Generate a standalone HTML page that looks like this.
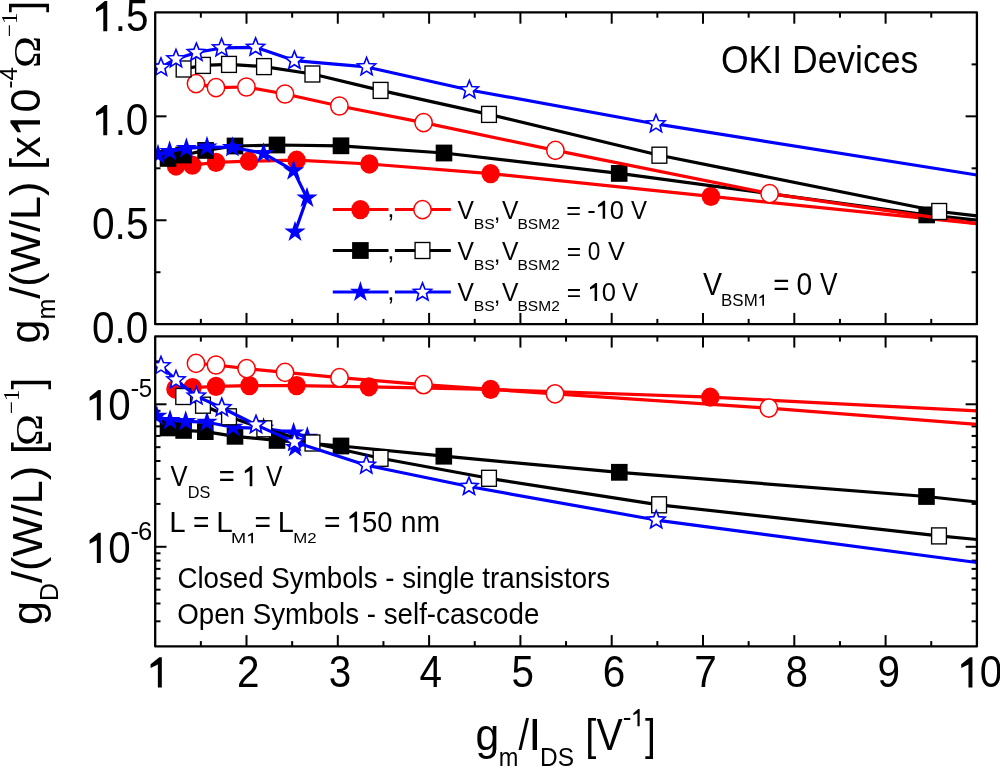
<!DOCTYPE html><html><head><meta charset="utf-8"><style>html,body{margin:0;padding:0;background:#fff;overflow:hidden}svg{display:block;will-change:transform}</style></head><body><svg width="1000" height="767" viewBox="0 0 1000 767" font-family="Liberation Sans, sans-serif" style="font-kerning:none">
<rect width="1000" height="767" fill="#fff"/>
<defs>
<clipPath id="ct"><rect x="155.2" y="12.4" width="821.7" height="311.8"/></clipPath>
<clipPath id="cb"><rect x="155.2" y="336.3" width="821.7" height="310.09999999999997"/></clipPath>
</defs>
<line x1="200.85" y1="12.40" x2="200.85" y2="17.70" stroke="#000000" stroke-width="2.0"/>
<line x1="200.85" y1="324.20" x2="200.85" y2="318.90" stroke="#000000" stroke-width="2.0"/>
<line x1="246.50" y1="12.40" x2="246.50" y2="23.70" stroke="#000000" stroke-width="2.0"/>
<line x1="246.50" y1="324.20" x2="246.50" y2="312.90" stroke="#000000" stroke-width="2.0"/>
<line x1="292.15" y1="12.40" x2="292.15" y2="17.70" stroke="#000000" stroke-width="2.0"/>
<line x1="292.15" y1="324.20" x2="292.15" y2="318.90" stroke="#000000" stroke-width="2.0"/>
<line x1="337.80" y1="12.40" x2="337.80" y2="23.70" stroke="#000000" stroke-width="2.0"/>
<line x1="337.80" y1="324.20" x2="337.80" y2="312.90" stroke="#000000" stroke-width="2.0"/>
<line x1="383.45" y1="12.40" x2="383.45" y2="17.70" stroke="#000000" stroke-width="2.0"/>
<line x1="383.45" y1="324.20" x2="383.45" y2="318.90" stroke="#000000" stroke-width="2.0"/>
<line x1="429.10" y1="12.40" x2="429.10" y2="23.70" stroke="#000000" stroke-width="2.0"/>
<line x1="429.10" y1="324.20" x2="429.10" y2="312.90" stroke="#000000" stroke-width="2.0"/>
<line x1="474.75" y1="12.40" x2="474.75" y2="17.70" stroke="#000000" stroke-width="2.0"/>
<line x1="474.75" y1="324.20" x2="474.75" y2="318.90" stroke="#000000" stroke-width="2.0"/>
<line x1="520.40" y1="12.40" x2="520.40" y2="23.70" stroke="#000000" stroke-width="2.0"/>
<line x1="520.40" y1="324.20" x2="520.40" y2="312.90" stroke="#000000" stroke-width="2.0"/>
<line x1="566.05" y1="12.40" x2="566.05" y2="17.70" stroke="#000000" stroke-width="2.0"/>
<line x1="566.05" y1="324.20" x2="566.05" y2="318.90" stroke="#000000" stroke-width="2.0"/>
<line x1="611.70" y1="12.40" x2="611.70" y2="23.70" stroke="#000000" stroke-width="2.0"/>
<line x1="611.70" y1="324.20" x2="611.70" y2="312.90" stroke="#000000" stroke-width="2.0"/>
<line x1="657.35" y1="12.40" x2="657.35" y2="17.70" stroke="#000000" stroke-width="2.0"/>
<line x1="657.35" y1="324.20" x2="657.35" y2="318.90" stroke="#000000" stroke-width="2.0"/>
<line x1="703.00" y1="12.40" x2="703.00" y2="23.70" stroke="#000000" stroke-width="2.0"/>
<line x1="703.00" y1="324.20" x2="703.00" y2="312.90" stroke="#000000" stroke-width="2.0"/>
<line x1="748.65" y1="12.40" x2="748.65" y2="17.70" stroke="#000000" stroke-width="2.0"/>
<line x1="748.65" y1="324.20" x2="748.65" y2="318.90" stroke="#000000" stroke-width="2.0"/>
<line x1="794.30" y1="12.40" x2="794.30" y2="23.70" stroke="#000000" stroke-width="2.0"/>
<line x1="794.30" y1="324.20" x2="794.30" y2="312.90" stroke="#000000" stroke-width="2.0"/>
<line x1="839.95" y1="12.40" x2="839.95" y2="17.70" stroke="#000000" stroke-width="2.0"/>
<line x1="839.95" y1="324.20" x2="839.95" y2="318.90" stroke="#000000" stroke-width="2.0"/>
<line x1="885.60" y1="12.40" x2="885.60" y2="23.70" stroke="#000000" stroke-width="2.0"/>
<line x1="885.60" y1="324.20" x2="885.60" y2="312.90" stroke="#000000" stroke-width="2.0"/>
<line x1="931.25" y1="12.40" x2="931.25" y2="17.70" stroke="#000000" stroke-width="2.0"/>
<line x1="931.25" y1="324.20" x2="931.25" y2="318.90" stroke="#000000" stroke-width="2.0"/>
<line x1="200.85" y1="336.30" x2="200.85" y2="341.60" stroke="#000000" stroke-width="2.0"/>
<line x1="200.85" y1="646.40" x2="200.85" y2="641.10" stroke="#000000" stroke-width="2.0"/>
<line x1="246.50" y1="336.30" x2="246.50" y2="347.60" stroke="#000000" stroke-width="2.0"/>
<line x1="246.50" y1="646.40" x2="246.50" y2="635.10" stroke="#000000" stroke-width="2.0"/>
<line x1="292.15" y1="336.30" x2="292.15" y2="341.60" stroke="#000000" stroke-width="2.0"/>
<line x1="292.15" y1="646.40" x2="292.15" y2="641.10" stroke="#000000" stroke-width="2.0"/>
<line x1="337.80" y1="336.30" x2="337.80" y2="347.60" stroke="#000000" stroke-width="2.0"/>
<line x1="337.80" y1="646.40" x2="337.80" y2="635.10" stroke="#000000" stroke-width="2.0"/>
<line x1="383.45" y1="336.30" x2="383.45" y2="341.60" stroke="#000000" stroke-width="2.0"/>
<line x1="383.45" y1="646.40" x2="383.45" y2="641.10" stroke="#000000" stroke-width="2.0"/>
<line x1="429.10" y1="336.30" x2="429.10" y2="347.60" stroke="#000000" stroke-width="2.0"/>
<line x1="429.10" y1="646.40" x2="429.10" y2="635.10" stroke="#000000" stroke-width="2.0"/>
<line x1="474.75" y1="336.30" x2="474.75" y2="341.60" stroke="#000000" stroke-width="2.0"/>
<line x1="474.75" y1="646.40" x2="474.75" y2="641.10" stroke="#000000" stroke-width="2.0"/>
<line x1="520.40" y1="336.30" x2="520.40" y2="347.60" stroke="#000000" stroke-width="2.0"/>
<line x1="520.40" y1="646.40" x2="520.40" y2="635.10" stroke="#000000" stroke-width="2.0"/>
<line x1="566.05" y1="336.30" x2="566.05" y2="341.60" stroke="#000000" stroke-width="2.0"/>
<line x1="566.05" y1="646.40" x2="566.05" y2="641.10" stroke="#000000" stroke-width="2.0"/>
<line x1="611.70" y1="336.30" x2="611.70" y2="347.60" stroke="#000000" stroke-width="2.0"/>
<line x1="611.70" y1="646.40" x2="611.70" y2="635.10" stroke="#000000" stroke-width="2.0"/>
<line x1="657.35" y1="336.30" x2="657.35" y2="341.60" stroke="#000000" stroke-width="2.0"/>
<line x1="657.35" y1="646.40" x2="657.35" y2="641.10" stroke="#000000" stroke-width="2.0"/>
<line x1="703.00" y1="336.30" x2="703.00" y2="347.60" stroke="#000000" stroke-width="2.0"/>
<line x1="703.00" y1="646.40" x2="703.00" y2="635.10" stroke="#000000" stroke-width="2.0"/>
<line x1="748.65" y1="336.30" x2="748.65" y2="341.60" stroke="#000000" stroke-width="2.0"/>
<line x1="748.65" y1="646.40" x2="748.65" y2="641.10" stroke="#000000" stroke-width="2.0"/>
<line x1="794.30" y1="336.30" x2="794.30" y2="347.60" stroke="#000000" stroke-width="2.0"/>
<line x1="794.30" y1="646.40" x2="794.30" y2="635.10" stroke="#000000" stroke-width="2.0"/>
<line x1="839.95" y1="336.30" x2="839.95" y2="341.60" stroke="#000000" stroke-width="2.0"/>
<line x1="839.95" y1="646.40" x2="839.95" y2="641.10" stroke="#000000" stroke-width="2.0"/>
<line x1="885.60" y1="336.30" x2="885.60" y2="347.60" stroke="#000000" stroke-width="2.0"/>
<line x1="885.60" y1="646.40" x2="885.60" y2="635.10" stroke="#000000" stroke-width="2.0"/>
<line x1="931.25" y1="336.30" x2="931.25" y2="341.60" stroke="#000000" stroke-width="2.0"/>
<line x1="931.25" y1="646.40" x2="931.25" y2="641.10" stroke="#000000" stroke-width="2.0"/>
<line x1="155.20" y1="272.23" x2="160.50" y2="272.23" stroke="#000000" stroke-width="2.0"/>
<line x1="976.90" y1="272.23" x2="971.60" y2="272.23" stroke="#000000" stroke-width="2.0"/>
<line x1="155.20" y1="220.27" x2="166.50" y2="220.27" stroke="#000000" stroke-width="2.0"/>
<line x1="976.90" y1="220.27" x2="965.60" y2="220.27" stroke="#000000" stroke-width="2.0"/>
<line x1="155.20" y1="168.30" x2="160.50" y2="168.30" stroke="#000000" stroke-width="2.0"/>
<line x1="976.90" y1="168.30" x2="971.60" y2="168.30" stroke="#000000" stroke-width="2.0"/>
<line x1="155.20" y1="116.33" x2="166.50" y2="116.33" stroke="#000000" stroke-width="2.0"/>
<line x1="976.90" y1="116.33" x2="965.60" y2="116.33" stroke="#000000" stroke-width="2.0"/>
<line x1="155.20" y1="64.37" x2="160.50" y2="64.37" stroke="#000000" stroke-width="2.0"/>
<line x1="976.90" y1="64.37" x2="971.60" y2="64.37" stroke="#000000" stroke-width="2.0"/>
<line x1="155.20" y1="621.31" x2="160.50" y2="621.31" stroke="#000000" stroke-width="2.0"/>
<line x1="976.90" y1="621.31" x2="971.60" y2="621.31" stroke="#000000" stroke-width="2.0"/>
<line x1="155.20" y1="603.50" x2="160.50" y2="603.50" stroke="#000000" stroke-width="2.0"/>
<line x1="976.90" y1="603.50" x2="971.60" y2="603.50" stroke="#000000" stroke-width="2.0"/>
<line x1="155.20" y1="589.69" x2="160.50" y2="589.69" stroke="#000000" stroke-width="2.0"/>
<line x1="976.90" y1="589.69" x2="971.60" y2="589.69" stroke="#000000" stroke-width="2.0"/>
<line x1="155.20" y1="578.41" x2="160.50" y2="578.41" stroke="#000000" stroke-width="2.0"/>
<line x1="976.90" y1="578.41" x2="971.60" y2="578.41" stroke="#000000" stroke-width="2.0"/>
<line x1="155.20" y1="568.87" x2="160.50" y2="568.87" stroke="#000000" stroke-width="2.0"/>
<line x1="976.90" y1="568.87" x2="971.60" y2="568.87" stroke="#000000" stroke-width="2.0"/>
<line x1="155.20" y1="560.60" x2="160.50" y2="560.60" stroke="#000000" stroke-width="2.0"/>
<line x1="976.90" y1="560.60" x2="971.60" y2="560.60" stroke="#000000" stroke-width="2.0"/>
<line x1="155.20" y1="553.32" x2="160.50" y2="553.32" stroke="#000000" stroke-width="2.0"/>
<line x1="976.90" y1="553.32" x2="971.60" y2="553.32" stroke="#000000" stroke-width="2.0"/>
<line x1="155.20" y1="546.79" x2="166.50" y2="546.79" stroke="#000000" stroke-width="2.0"/>
<line x1="976.90" y1="546.79" x2="965.60" y2="546.79" stroke="#000000" stroke-width="2.0"/>
<line x1="155.20" y1="503.90" x2="160.50" y2="503.90" stroke="#000000" stroke-width="2.0"/>
<line x1="976.90" y1="503.90" x2="971.60" y2="503.90" stroke="#000000" stroke-width="2.0"/>
<line x1="155.20" y1="478.80" x2="160.50" y2="478.80" stroke="#000000" stroke-width="2.0"/>
<line x1="976.90" y1="478.80" x2="971.60" y2="478.80" stroke="#000000" stroke-width="2.0"/>
<line x1="155.20" y1="461.00" x2="160.50" y2="461.00" stroke="#000000" stroke-width="2.0"/>
<line x1="976.90" y1="461.00" x2="971.60" y2="461.00" stroke="#000000" stroke-width="2.0"/>
<line x1="155.20" y1="447.19" x2="160.50" y2="447.19" stroke="#000000" stroke-width="2.0"/>
<line x1="976.90" y1="447.19" x2="971.60" y2="447.19" stroke="#000000" stroke-width="2.0"/>
<line x1="155.20" y1="435.91" x2="160.50" y2="435.91" stroke="#000000" stroke-width="2.0"/>
<line x1="976.90" y1="435.91" x2="971.60" y2="435.91" stroke="#000000" stroke-width="2.0"/>
<line x1="155.20" y1="426.37" x2="160.50" y2="426.37" stroke="#000000" stroke-width="2.0"/>
<line x1="976.90" y1="426.37" x2="971.60" y2="426.37" stroke="#000000" stroke-width="2.0"/>
<line x1="155.20" y1="418.10" x2="160.50" y2="418.10" stroke="#000000" stroke-width="2.0"/>
<line x1="976.90" y1="418.10" x2="971.60" y2="418.10" stroke="#000000" stroke-width="2.0"/>
<line x1="155.20" y1="410.81" x2="160.50" y2="410.81" stroke="#000000" stroke-width="2.0"/>
<line x1="976.90" y1="410.81" x2="971.60" y2="410.81" stroke="#000000" stroke-width="2.0"/>
<line x1="155.20" y1="404.29" x2="166.50" y2="404.29" stroke="#000000" stroke-width="2.0"/>
<line x1="976.90" y1="404.29" x2="965.60" y2="404.29" stroke="#000000" stroke-width="2.0"/>
<line x1="155.20" y1="361.39" x2="160.50" y2="361.39" stroke="#000000" stroke-width="2.0"/>
<line x1="976.90" y1="361.39" x2="971.60" y2="361.39" stroke="#000000" stroke-width="2.0"/>
<g clip-path="url(#ct)">
<polyline points="176.00,166.00 192.40,165.20 216.00,162.40 249.00,161.20 296.60,160.20 369.40,164.00 490.60,173.60 710.90,196.40 976.90,223.60" fill="none" stroke="#ff0000" stroke-width="3.2" stroke-linejoin="round"/>
<ellipse cx="176.00" cy="166.00" rx="9.2" ry="9.65" fill="#ff0000"/>
<ellipse cx="192.40" cy="165.20" rx="9.2" ry="9.65" fill="#ff0000"/>
<ellipse cx="216.00" cy="162.40" rx="9.2" ry="9.65" fill="#ff0000"/>
<ellipse cx="249.00" cy="161.20" rx="9.2" ry="9.65" fill="#ff0000"/>
<ellipse cx="296.60" cy="160.20" rx="9.2" ry="9.65" fill="#ff0000"/>
<ellipse cx="369.40" cy="164.00" rx="9.2" ry="9.65" fill="#ff0000"/>
<ellipse cx="490.60" cy="173.60" rx="9.2" ry="9.65" fill="#ff0000"/>
<ellipse cx="710.90" cy="196.40" rx="9.2" ry="9.65" fill="#ff0000"/>
</g>
<g clip-path="url(#ct)">
<polyline points="168.00,158.40 183.60,155.00 205.60,150.40 235.00,146.00 277.00,145.00 341.00,145.80 444.00,153.00 619.20,173.40 926.70,214.90 976.90,220.00" fill="none" stroke="#000000" stroke-width="3.2" stroke-linejoin="round"/>
<rect x="159.70" y="150.00" width="16.6" height="16.8" fill="#000000"/>
<rect x="175.30" y="146.60" width="16.6" height="16.8" fill="#000000"/>
<rect x="197.30" y="142.00" width="16.6" height="16.8" fill="#000000"/>
<rect x="226.70" y="137.60" width="16.6" height="16.8" fill="#000000"/>
<rect x="268.70" y="136.60" width="16.6" height="16.8" fill="#000000"/>
<rect x="332.70" y="137.40" width="16.6" height="16.8" fill="#000000"/>
<rect x="435.70" y="144.60" width="16.6" height="16.8" fill="#000000"/>
<rect x="610.90" y="165.00" width="16.6" height="16.8" fill="#000000"/>
<rect x="918.40" y="206.50" width="16.6" height="16.8" fill="#000000"/>
</g>
<g clip-path="url(#ct)">
<polyline points="158.00,155.00 169.60,151.40 186.40,148.40 207.00,147.00 232.40,147.40 263.60,153.40 293.60,170.60 307.00,198.00 295.00,232.00" fill="none" stroke="#0000ff" stroke-width="3.2" stroke-linejoin="round"/>
<polygon points="158.00,143.80 160.51,151.54 168.65,151.54 162.07,156.32 164.58,164.06 158.00,159.28 151.42,164.06 153.93,156.32 147.35,151.54 155.49,151.54" fill="#0000ff"/>
<polygon points="169.60,140.20 172.11,147.94 180.25,147.94 173.67,152.72 176.18,160.46 169.60,155.68 163.02,160.46 165.53,152.72 158.95,147.94 167.09,147.94" fill="#0000ff"/>
<polygon points="186.40,137.20 188.91,144.94 197.05,144.94 190.47,149.72 192.98,157.46 186.40,152.68 179.82,157.46 182.33,149.72 175.75,144.94 183.89,144.94" fill="#0000ff"/>
<polygon points="207.00,135.80 209.51,143.54 217.65,143.54 211.07,148.32 213.58,156.06 207.00,151.28 200.42,156.06 202.93,148.32 196.35,143.54 204.49,143.54" fill="#0000ff"/>
<polygon points="232.40,136.20 234.91,143.94 243.05,143.94 236.47,148.72 238.98,156.46 232.40,151.68 225.82,156.46 228.33,148.72 221.75,143.94 229.89,143.94" fill="#0000ff"/>
<polygon points="263.60,142.20 266.11,149.94 274.25,149.94 267.67,154.72 270.18,162.46 263.60,157.68 257.02,162.46 259.53,154.72 252.95,149.94 261.09,149.94" fill="#0000ff"/>
<polygon points="293.60,159.40 296.11,167.14 304.25,167.14 297.67,171.92 300.18,179.66 293.60,174.88 287.02,179.66 289.53,171.92 282.95,167.14 291.09,167.14" fill="#0000ff"/>
<polygon points="307.00,186.80 309.51,194.54 317.65,194.54 311.07,199.32 313.58,207.06 307.00,202.28 300.42,207.06 302.93,199.32 296.35,194.54 304.49,194.54" fill="#0000ff"/>
<polygon points="295.00,220.80 297.51,228.54 305.65,228.54 299.07,233.32 301.58,241.06 295.00,236.28 288.42,241.06 290.93,233.32 284.35,228.54 292.49,228.54" fill="#0000ff"/>
</g>
<g clip-path="url(#ct)">
<polyline points="196.00,83.60 216.00,87.60 246.40,87.00 285.00,94.00 339.40,106.00 423.60,122.60 555.40,150.40 769.60,193.60 976.90,223.60" fill="none" stroke="#ff0000" stroke-width="3.2" stroke-linejoin="round"/>
<ellipse cx="196.00" cy="83.60" rx="8.7" ry="9.1" fill="#fff" stroke="#ff0000" stroke-width="1.5"/>
<ellipse cx="216.00" cy="87.60" rx="8.7" ry="9.1" fill="#fff" stroke="#ff0000" stroke-width="1.5"/>
<ellipse cx="246.40" cy="87.00" rx="8.7" ry="9.1" fill="#fff" stroke="#ff0000" stroke-width="1.5"/>
<ellipse cx="285.00" cy="94.00" rx="8.7" ry="9.1" fill="#fff" stroke="#ff0000" stroke-width="1.5"/>
<ellipse cx="339.40" cy="106.00" rx="8.7" ry="9.1" fill="#fff" stroke="#ff0000" stroke-width="1.5"/>
<ellipse cx="423.60" cy="122.60" rx="8.7" ry="9.1" fill="#fff" stroke="#ff0000" stroke-width="1.5"/>
<ellipse cx="555.40" cy="150.40" rx="8.7" ry="9.1" fill="#fff" stroke="#ff0000" stroke-width="1.5"/>
<ellipse cx="769.60" cy="193.60" rx="8.7" ry="9.1" fill="#fff" stroke="#ff0000" stroke-width="1.5"/>
</g>
<g clip-path="url(#ct)">
<polyline points="183.60,69.00 203.00,65.40 229.00,64.40 264.00,66.60 312.40,74.00 380.60,90.40 489.00,114.40 659.40,155.20 939.20,211.50 976.90,215.80" fill="none" stroke="#000000" stroke-width="3.2" stroke-linejoin="round"/>
<rect x="176.20" y="61.00" width="14.8" height="16.0" fill="#fff" stroke="#000000" stroke-width="1.35"/>
<rect x="195.60" y="57.40" width="14.8" height="16.0" fill="#fff" stroke="#000000" stroke-width="1.35"/>
<rect x="221.60" y="56.40" width="14.8" height="16.0" fill="#fff" stroke="#000000" stroke-width="1.35"/>
<rect x="256.60" y="58.60" width="14.8" height="16.0" fill="#fff" stroke="#000000" stroke-width="1.35"/>
<rect x="305.00" y="66.00" width="14.8" height="16.0" fill="#fff" stroke="#000000" stroke-width="1.35"/>
<rect x="373.20" y="82.40" width="14.8" height="16.0" fill="#fff" stroke="#000000" stroke-width="1.35"/>
<rect x="481.60" y="106.40" width="14.8" height="16.0" fill="#fff" stroke="#000000" stroke-width="1.35"/>
<rect x="652.00" y="147.20" width="14.8" height="16.0" fill="#fff" stroke="#000000" stroke-width="1.35"/>
<rect x="931.80" y="203.50" width="14.8" height="16.0" fill="#fff" stroke="#000000" stroke-width="1.35"/>
</g>
<g clip-path="url(#ct)">
<polyline points="161.00,67.45 176.00,58.95 196.40,52.55 221.60,47.95 255.60,47.35 294.40,60.55 366.60,66.95 469.40,89.95 656.00,123.95 976.90,175.00" fill="none" stroke="#0000ff" stroke-width="3.2" stroke-linejoin="round"/>
<polygon points="161.00,57.95 163.46,64.07 170.04,64.51 164.98,68.74 166.58,75.14 161.00,71.63 155.42,75.14 157.02,68.74 151.96,64.51 158.54,64.07" fill="#fff" stroke="#0000ff" stroke-width="1.6" stroke-linejoin="miter"/>
<polygon points="176.00,49.45 178.46,55.57 185.04,56.01 179.98,60.24 181.58,66.64 176.00,63.13 170.42,66.64 172.02,60.24 166.96,56.01 173.54,55.57" fill="#fff" stroke="#0000ff" stroke-width="1.6" stroke-linejoin="miter"/>
<polygon points="196.40,43.05 198.86,49.17 205.44,49.61 200.38,53.84 201.98,60.24 196.40,56.73 190.82,60.24 192.42,53.84 187.36,49.61 193.94,49.17" fill="#fff" stroke="#0000ff" stroke-width="1.6" stroke-linejoin="miter"/>
<polygon points="221.60,38.45 224.06,44.57 230.64,45.01 225.58,49.24 227.18,55.64 221.60,52.13 216.02,55.64 217.62,49.24 212.56,45.01 219.14,44.57" fill="#fff" stroke="#0000ff" stroke-width="1.6" stroke-linejoin="miter"/>
<polygon points="255.60,37.85 258.06,43.97 264.64,44.41 259.58,48.64 261.18,55.04 255.60,51.53 250.02,55.04 251.62,48.64 246.56,44.41 253.14,43.97" fill="#fff" stroke="#0000ff" stroke-width="1.6" stroke-linejoin="miter"/>
<polygon points="294.40,51.05 296.86,57.17 303.44,57.61 298.38,61.84 299.98,68.24 294.40,64.73 288.82,68.24 290.42,61.84 285.36,57.61 291.94,57.17" fill="#fff" stroke="#0000ff" stroke-width="1.6" stroke-linejoin="miter"/>
<polygon points="366.60,57.45 369.06,63.57 375.64,64.01 370.58,68.24 372.18,74.64 366.60,71.13 361.02,74.64 362.62,68.24 357.56,64.01 364.14,63.57" fill="#fff" stroke="#0000ff" stroke-width="1.6" stroke-linejoin="miter"/>
<polygon points="469.40,80.45 471.86,86.57 478.44,87.01 473.38,91.24 474.98,97.64 469.40,94.13 463.82,97.64 465.42,91.24 460.36,87.01 466.94,86.57" fill="#fff" stroke="#0000ff" stroke-width="1.6" stroke-linejoin="miter"/>
<polygon points="656.00,114.45 658.46,120.57 665.04,121.01 659.98,125.24 661.58,131.64 656.00,128.13 650.42,131.64 652.02,125.24 646.96,121.01 653.54,120.57" fill="#fff" stroke="#0000ff" stroke-width="1.6" stroke-linejoin="miter"/>
</g>
<g clip-path="url(#cb)">
<polyline points="175.40,389.00 192.60,387.60 216.00,386.40 249.40,385.60 296.60,385.60 368.90,386.80 490.60,389.40 710.30,397.20 976.90,410.80" fill="none" stroke="#ff0000" stroke-width="3.2" stroke-linejoin="round"/>
<ellipse cx="175.40" cy="389.00" rx="9.2" ry="9.65" fill="#ff0000"/>
<ellipse cx="192.60" cy="387.60" rx="9.2" ry="9.65" fill="#ff0000"/>
<ellipse cx="216.00" cy="386.40" rx="9.2" ry="9.65" fill="#ff0000"/>
<ellipse cx="249.40" cy="385.60" rx="9.2" ry="9.65" fill="#ff0000"/>
<ellipse cx="296.60" cy="385.60" rx="9.2" ry="9.65" fill="#ff0000"/>
<ellipse cx="368.90" cy="386.80" rx="9.2" ry="9.65" fill="#ff0000"/>
<ellipse cx="490.60" cy="389.40" rx="9.2" ry="9.65" fill="#ff0000"/>
<ellipse cx="710.30" cy="397.20" rx="9.2" ry="9.65" fill="#ff0000"/>
</g>
<g clip-path="url(#cb)">
<polyline points="168.00,427.90 183.60,430.40 205.30,431.60 235.00,436.30 277.00,440.40 341.00,446.00 443.80,456.20 619.30,472.30 926.50,496.50 976.90,502.00" fill="none" stroke="#000000" stroke-width="3.2" stroke-linejoin="round"/>
<rect x="159.70" y="419.50" width="16.6" height="16.8" fill="#000000"/>
<rect x="175.30" y="422.00" width="16.6" height="16.8" fill="#000000"/>
<rect x="197.00" y="423.20" width="16.6" height="16.8" fill="#000000"/>
<rect x="226.70" y="427.90" width="16.6" height="16.8" fill="#000000"/>
<rect x="268.70" y="432.00" width="16.6" height="16.8" fill="#000000"/>
<rect x="332.70" y="437.60" width="16.6" height="16.8" fill="#000000"/>
<rect x="435.50" y="447.80" width="16.6" height="16.8" fill="#000000"/>
<rect x="611.00" y="463.90" width="16.6" height="16.8" fill="#000000"/>
<rect x="918.20" y="488.10" width="16.6" height="16.8" fill="#000000"/>
</g>
<g clip-path="url(#cb)">
<polyline points="156.80,416.30 170.00,420.50 185.70,421.40 207.00,422.20 233.00,427.30 263.60,428.30 293.60,432.90 307.30,437.10 295.20,447.50" fill="none" stroke="#0000ff" stroke-width="3.2" stroke-linejoin="round"/>
<polygon points="156.80,405.10 159.31,412.84 167.45,412.84 160.87,417.62 163.38,425.36 156.80,420.58 150.22,425.36 152.73,417.62 146.15,412.84 154.29,412.84" fill="#0000ff"/>
<polygon points="170.00,409.30 172.51,417.04 180.65,417.04 174.07,421.82 176.58,429.56 170.00,424.78 163.42,429.56 165.93,421.82 159.35,417.04 167.49,417.04" fill="#0000ff"/>
<polygon points="185.70,410.20 188.21,417.94 196.35,417.94 189.77,422.72 192.28,430.46 185.70,425.68 179.12,430.46 181.63,422.72 175.05,417.94 183.19,417.94" fill="#0000ff"/>
<polygon points="207.00,411.00 209.51,418.74 217.65,418.74 211.07,423.52 213.58,431.26 207.00,426.48 200.42,431.26 202.93,423.52 196.35,418.74 204.49,418.74" fill="#0000ff"/>
<polygon points="233.00,416.10 235.51,423.84 243.65,423.84 237.07,428.62 239.58,436.36 233.00,431.58 226.42,436.36 228.93,428.62 222.35,423.84 230.49,423.84" fill="#0000ff"/>
<polygon points="263.60,417.10 266.11,424.84 274.25,424.84 267.67,429.62 270.18,437.36 263.60,432.58 257.02,437.36 259.53,429.62 252.95,424.84 261.09,424.84" fill="#0000ff"/>
<polygon points="293.60,421.70 296.11,429.44 304.25,429.44 297.67,434.22 300.18,441.96 293.60,437.18 287.02,441.96 289.53,434.22 282.95,429.44 291.09,429.44" fill="#0000ff"/>
<polygon points="307.30,425.90 309.81,433.64 317.95,433.64 311.37,438.42 313.88,446.16 307.30,441.38 300.72,446.16 303.23,438.42 296.65,433.64 304.79,433.64" fill="#0000ff"/>
<polygon points="295.20,436.30 297.71,444.04 305.85,444.04 299.27,448.82 301.78,456.56 295.20,451.78 288.62,456.56 291.13,448.82 284.55,444.04 292.69,444.04" fill="#0000ff"/>
</g>
<g clip-path="url(#cb)">
<polyline points="196.00,363.40 216.00,365.00 246.60,368.60 285.00,372.40 339.50,377.70 423.50,384.70 555.00,393.80 768.80,408.10 976.90,424.30" fill="none" stroke="#ff0000" stroke-width="3.2" stroke-linejoin="round"/>
<ellipse cx="196.00" cy="363.40" rx="8.7" ry="9.1" fill="#fff" stroke="#ff0000" stroke-width="1.5"/>
<ellipse cx="216.00" cy="365.00" rx="8.7" ry="9.1" fill="#fff" stroke="#ff0000" stroke-width="1.5"/>
<ellipse cx="246.60" cy="368.60" rx="8.7" ry="9.1" fill="#fff" stroke="#ff0000" stroke-width="1.5"/>
<ellipse cx="285.00" cy="372.40" rx="8.7" ry="9.1" fill="#fff" stroke="#ff0000" stroke-width="1.5"/>
<ellipse cx="339.50" cy="377.70" rx="8.7" ry="9.1" fill="#fff" stroke="#ff0000" stroke-width="1.5"/>
<ellipse cx="423.50" cy="384.70" rx="8.7" ry="9.1" fill="#fff" stroke="#ff0000" stroke-width="1.5"/>
<ellipse cx="555.00" cy="393.80" rx="8.7" ry="9.1" fill="#fff" stroke="#ff0000" stroke-width="1.5"/>
<ellipse cx="768.80" cy="408.10" rx="8.7" ry="9.1" fill="#fff" stroke="#ff0000" stroke-width="1.5"/>
</g>
<g clip-path="url(#cb)">
<polyline points="183.20,396.50 203.00,405.20 229.00,416.80 264.30,428.80 312.50,443.00 380.60,458.30 489.00,478.30 659.10,504.80 939.00,535.90 976.90,539.50" fill="none" stroke="#000000" stroke-width="3.2" stroke-linejoin="round"/>
<rect x="175.80" y="388.50" width="14.8" height="16.0" fill="#fff" stroke="#000000" stroke-width="1.35"/>
<rect x="195.60" y="397.20" width="14.8" height="16.0" fill="#fff" stroke="#000000" stroke-width="1.35"/>
<rect x="221.60" y="408.80" width="14.8" height="16.0" fill="#fff" stroke="#000000" stroke-width="1.35"/>
<rect x="256.90" y="420.80" width="14.8" height="16.0" fill="#fff" stroke="#000000" stroke-width="1.35"/>
<rect x="305.10" y="435.00" width="14.8" height="16.0" fill="#fff" stroke="#000000" stroke-width="1.35"/>
<rect x="373.20" y="450.30" width="14.8" height="16.0" fill="#fff" stroke="#000000" stroke-width="1.35"/>
<rect x="481.60" y="470.30" width="14.8" height="16.0" fill="#fff" stroke="#000000" stroke-width="1.35"/>
<rect x="651.70" y="496.80" width="14.8" height="16.0" fill="#fff" stroke="#000000" stroke-width="1.35"/>
<rect x="931.60" y="527.90" width="14.8" height="16.0" fill="#fff" stroke="#000000" stroke-width="1.35"/>
</g>
<g clip-path="url(#cb)">
<polyline points="161.00,365.95 176.00,379.95 196.40,396.15 221.80,407.75 256.00,424.85 294.50,441.95 366.30,465.25 469.00,486.55 656.20,520.05 976.90,562.50" fill="none" stroke="#0000ff" stroke-width="3.2" stroke-linejoin="round"/>
<polygon points="161.00,356.45 163.46,362.57 170.04,363.01 164.98,367.24 166.58,373.64 161.00,370.13 155.42,373.64 157.02,367.24 151.96,363.01 158.54,362.57" fill="#fff" stroke="#0000ff" stroke-width="1.6" stroke-linejoin="miter"/>
<polygon points="176.00,370.45 178.46,376.57 185.04,377.01 179.98,381.24 181.58,387.64 176.00,384.13 170.42,387.64 172.02,381.24 166.96,377.01 173.54,376.57" fill="#fff" stroke="#0000ff" stroke-width="1.6" stroke-linejoin="miter"/>
<polygon points="196.40,386.65 198.86,392.77 205.44,393.21 200.38,397.44 201.98,403.84 196.40,400.33 190.82,403.84 192.42,397.44 187.36,393.21 193.94,392.77" fill="#fff" stroke="#0000ff" stroke-width="1.6" stroke-linejoin="miter"/>
<polygon points="221.80,398.25 224.26,404.37 230.84,404.81 225.78,409.04 227.38,415.44 221.80,411.93 216.22,415.44 217.82,409.04 212.76,404.81 219.34,404.37" fill="#fff" stroke="#0000ff" stroke-width="1.6" stroke-linejoin="miter"/>
<polygon points="256.00,415.35 258.46,421.47 265.04,421.91 259.98,426.14 261.58,432.54 256.00,429.03 250.42,432.54 252.02,426.14 246.96,421.91 253.54,421.47" fill="#fff" stroke="#0000ff" stroke-width="1.6" stroke-linejoin="miter"/>
<polygon points="294.50,432.45 296.96,438.57 303.54,439.01 298.48,443.24 300.08,449.64 294.50,446.13 288.92,449.64 290.52,443.24 285.46,439.01 292.04,438.57" fill="#fff" stroke="#0000ff" stroke-width="1.6" stroke-linejoin="miter"/>
<polygon points="366.30,455.75 368.76,461.87 375.34,462.31 370.28,466.54 371.88,472.94 366.30,469.43 360.72,472.94 362.32,466.54 357.26,462.31 363.84,461.87" fill="#fff" stroke="#0000ff" stroke-width="1.6" stroke-linejoin="miter"/>
<polygon points="469.00,477.05 471.46,483.17 478.04,483.61 472.98,487.84 474.58,494.24 469.00,490.73 463.42,494.24 465.02,487.84 459.96,483.61 466.54,483.17" fill="#fff" stroke="#0000ff" stroke-width="1.6" stroke-linejoin="miter"/>
<polygon points="656.20,510.55 658.66,516.67 665.24,517.11 660.18,521.34 661.78,527.74 656.20,524.23 650.62,527.74 652.22,521.34 647.16,517.11 653.74,516.67" fill="#fff" stroke="#0000ff" stroke-width="1.6" stroke-linejoin="miter"/>
</g>
<rect x="155.2" y="12.4" width="821.7" height="311.8" fill="none" stroke="#000" stroke-width="2.3" stroke-linejoin="round"/>
<rect x="155.2" y="336.3" width="821.7" height="310.09999999999997" fill="none" stroke="#000" stroke-width="2.3" stroke-linejoin="round"/>
<line x1="332.80" y1="209.60" x2="388.50" y2="209.60" stroke="#ff0000" stroke-width="3.0"/>
<line x1="394.90" y1="209.60" x2="450.80" y2="209.60" stroke="#ff0000" stroke-width="3.0"/>
<ellipse cx="360.40" cy="209.60" rx="9.2" ry="9.65" fill="#ff0000"/>
<ellipse cx="422.50" cy="209.60" rx="8.7" ry="9.1" fill="#fff" stroke="#ff0000" stroke-width="1.5"/>
<text transform="translate(387.16,217.20) scale(1.0000,1)" font-size="26">,</text>
<text transform="translate(457.59,218.70) scale(0.9466,1)" font-size="26">V</text>
<text transform="translate(473.71,228.60) scale(1.0164,1)" font-size="15.5">BS</text>
<text transform="translate(493.74,220.20) scale(1.0000,1)" font-size="24">,</text>
<text transform="translate(501.99,218.70) scale(0.9466,1)" font-size="26">V</text>
<text transform="translate(517.53,228.60) scale(1.0011,1)" font-size="15.5">BSM2</text>
<text transform="translate(566.26,218.70) scale(0.9737,1)" font-size="26">=</text>
<path transform="translate(595.65,218.70) scale(0.01244,-0.01270)" d="M763 0L563 0L563 1063L195 902L195 1075L638 1409L763 1409Z" fill="#000"/>
<text transform="translate(587.17,218.70) scale(0.9800,1)" font-size="26">- 0</text>
<text transform="translate(630.89,218.70) scale(0.9233,1)" font-size="26">V</text>
<line x1="332.80" y1="250.50" x2="388.50" y2="250.50" stroke="#000000" stroke-width="3.0"/>
<line x1="394.90" y1="250.50" x2="450.80" y2="250.50" stroke="#000000" stroke-width="3.0"/>
<rect x="352.10" y="242.10" width="16.6" height="16.8" fill="#000000"/>
<rect x="415.10" y="242.50" width="14.8" height="16.0" fill="#fff" stroke="#000000" stroke-width="1.35"/>
<text transform="translate(387.16,258.50) scale(1.0000,1)" font-size="26">,</text>
<text transform="translate(457.59,260.00) scale(0.9466,1)" font-size="26">V</text>
<text transform="translate(473.71,269.90) scale(1.0164,1)" font-size="15.5">BS</text>
<text transform="translate(493.74,261.50) scale(1.0000,1)" font-size="24">,</text>
<text transform="translate(501.99,260.00) scale(0.9466,1)" font-size="26">V</text>
<text transform="translate(517.53,269.90) scale(1.0011,1)" font-size="15.5">BSM2</text>
<text transform="translate(566.79,260.00) scale(0.9500,1)" font-size="26">=</text>
<text transform="translate(587.72,260.00) scale(0.8690,1)" font-size="26">0</text>
<text transform="translate(607.89,260.00) scale(0.9700,1)" font-size="26">V</text>
<line x1="332.80" y1="292.10" x2="388.50" y2="292.10" stroke="#0000ff" stroke-width="3.0"/>
<line x1="394.90" y1="292.10" x2="450.80" y2="292.10" stroke="#0000ff" stroke-width="3.0"/>
<polygon points="360.40,281.10 362.87,288.70 370.86,288.70 364.40,293.40 366.87,301.00 360.40,296.30 353.93,301.00 356.40,293.40 349.94,288.70 357.93,288.70" fill="#0000ff"/>
<polygon points="422.50,282.85 424.96,288.97 431.54,289.41 426.48,293.64 428.08,300.04 422.50,296.53 416.92,300.04 418.52,293.64 413.46,289.41 420.04,288.97" fill="#fff" stroke="#0000ff" stroke-width="1.6" stroke-linejoin="miter"/>
<text transform="translate(387.16,299.50) scale(1.0000,1)" font-size="26">,</text>
<text transform="translate(457.59,301.00) scale(0.9466,1)" font-size="26">V</text>
<text transform="translate(473.71,310.90) scale(1.0164,1)" font-size="15.5">BS</text>
<text transform="translate(493.74,302.50) scale(1.0000,1)" font-size="24">,</text>
<text transform="translate(501.99,301.00) scale(0.9466,1)" font-size="26">V</text>
<text transform="translate(517.53,310.90) scale(1.0011,1)" font-size="15.5">BSM2</text>
<text transform="translate(566.79,301.00) scale(0.9500,1)" font-size="26">=</text>
<path transform="translate(587.57,301.00) scale(0.01248,-0.01270)" d="M763 0L563 0L563 1063L195 902L195 1075L638 1409L763 1409Z" fill="#000"/>
<text transform="translate(587.57,301.00) scale(0.9831,1)" font-size="26"> 0</text>
<text transform="translate(621.89,301.00) scale(0.9349,1)" font-size="26">V</text>
<text transform="translate(721.02,73.00) scale(0.9220,1)" font-size="38.5">OKI Devices</text>
<text transform="translate(703.07,294.70) scale(0.9365,1)" font-size="30.5">V</text>
<path transform="translate(757.71,305.80) scale(0.00825,-0.00806)" d="M763 0L563 0L563 1063L195 902L195 1075L638 1409L763 1409Z" fill="#000"/>
<text transform="translate(721.11,305.80) scale(1.0235,1)" font-size="16.5">BSM </text>
<text transform="translate(773.14,294.70) scale(0.9110,1)" font-size="30.5">=</text>
<text transform="translate(796.60,294.70) scale(0.9259,1)" font-size="30.5">0</text>
<text transform="translate(820.08,294.70) scale(0.8618,1)" font-size="30.5">V</text>
<text transform="translate(170.54,486.20) scale(0.8678,1)" font-size="29.5">V</text>
<text transform="translate(187.87,497.90) scale(0.9561,1)" font-size="17">DS</text>
<text transform="translate(218.66,486.20) scale(0.9280,1)" font-size="29.5">=</text>
<path transform="translate(242.22,486.20) scale(0.01325,-0.01440)" d="M763 0L563 0L563 1063L195 902L195 1075L638 1409L763 1409Z" fill="#000"/>
<text transform="translate(266.09,486.20) scale(0.8395,1)" font-size="29.5">V</text>
<text transform="translate(169.28,532.20) scale(0.9828,1)" font-size="30">L</text>
<text transform="translate(193.03,532.20) scale(0.9331,1)" font-size="30">=</text>
<text transform="translate(216.26,532.20) scale(0.9904,1)" font-size="30">L</text>
<path transform="translate(246.24,543.30) scale(0.00887,-0.00757)" d="M763 0L563 0L563 1063L195 902L195 1075L638 1409L763 1409Z" fill="#000"/>
<text transform="translate(231.11,543.30) scale(1.1714,1)" font-size="15.5">M </text>
<text transform="translate(254.62,532.20) scale(0.9400,1)" font-size="30">=</text>
<text transform="translate(277.82,532.20) scale(0.9677,1)" font-size="30">L</text>
<text transform="translate(293.32,543.30) scale(1.0882,1)" font-size="15.5">M2</text>
<text transform="translate(323.92,532.20) scale(0.9400,1)" font-size="30">=</text>
<path transform="translate(346.89,532.20) scale(0.01337,-0.01465)" d="M763 0L563 0L563 1063L195 902L195 1075L638 1409L763 1409Z" fill="#000"/>
<text transform="translate(346.89,532.20) scale(0.9125,1)" font-size="30"> 50</text>
<text transform="translate(400.82,532.20) scale(0.9442,1)" font-size="30">nm</text>
<text transform="translate(177.39,588.40) scale(0.9690,1)" font-size="28.6">Closed Symbols - single transistors</text>
<text transform="translate(177.19,623.90) scale(0.9703,1)" font-size="28.6">Open Symbols - self-cascode</text>
<path transform="translate(92.14,31.30) scale(0.01980,-0.02148)" d="M763 0L563 0L563 1063L195 902L195 1075L638 1409L763 1409Z" fill="#000"/>
<text transform="translate(92.14,31.30) scale(0.9215,1)" font-size="44"> .5</text>
<path transform="translate(92.15,135.23) scale(0.01975,-0.02148)" d="M763 0L563 0L563 1063L195 902L195 1075L638 1409L763 1409Z" fill="#000"/>
<text transform="translate(92.15,135.23) scale(0.9193,1)" font-size="44"> .0</text>
<text transform="translate(92.01,239.17) scale(0.9236,1)" font-size="44">0.5</text>
<text transform="translate(92.02,343.10) scale(0.9216,1)" font-size="44">0.0</text>
<path transform="translate(85.76,420.20) scale(0.01967,-0.02148)" d="M763 0L563 0L563 1063L195 902L195 1075L638 1409L763 1409Z" fill="#000"/>
<text transform="translate(85.76,420.20) scale(0.9156,1)" font-size="44"> 0</text>
<text transform="translate(130.44,396.80) scale(1.0486,1)" font-size="25">-</text>
<text transform="translate(138.64,396.80) scale(0.9618,1)" font-size="25">5</text>
<path transform="translate(85.76,563.00) scale(0.01967,-0.02148)" d="M763 0L563 0L563 1063L195 902L195 1075L638 1409L763 1409Z" fill="#000"/>
<text transform="translate(85.76,563.00) scale(0.9156,1)" font-size="44"> 0</text>
<text transform="translate(130.47,539.80) scale(1.0158,1)" font-size="25">-</text>
<text transform="translate(137.90,539.80) scale(1.0229,1)" font-size="25">6</text>
<path transform="translate(146.73,687.40) scale(0.01977,-0.02148)" d="M763 0L563 0L563 1063L195 902L195 1075L638 1409L763 1409Z" fill="#000"/>
<text transform="translate(237.04,687.40) scale(0.9200,1)" font-size="44">2</text>
<text transform="translate(328.66,687.40) scale(0.9200,1)" font-size="44">3</text>
<text transform="translate(419.47,687.40) scale(0.9200,1)" font-size="44">4</text>
<text transform="translate(511.48,687.40) scale(0.9200,1)" font-size="44">5</text>
<text transform="translate(602.81,687.40) scale(0.9200,1)" font-size="44">6</text>
<text transform="translate(694.32,687.40) scale(0.9200,1)" font-size="44">7</text>
<text transform="translate(785.54,687.40) scale(0.9200,1)" font-size="44">8</text>
<text transform="translate(877.55,687.40) scale(0.9200,1)" font-size="44">9</text>
<path transform="translate(957.35,687.40) scale(0.01977,-0.02148)" d="M763 0L563 0L563 1063L195 902L195 1075L638 1409L763 1409Z" fill="#000"/>
<text transform="translate(957.35,687.40) scale(0.9200,1)" font-size="44"> 0</text>
<text transform="translate(475.41,750.00) scale(0.9703,1)" font-size="44">g</text>
<text transform="translate(498.74,766.00) scale(0.9419,1)" font-size="25">m</text>
<text transform="translate(518.40,750.00) scale(0.8589,1)" font-size="44">/</text>
<text transform="translate(528.35,750.00) scale(1.0723,1)" font-size="44">I</text>
<text transform="translate(539.99,766.00) scale(0.9800,1)" font-size="25">DS</text>
<text transform="translate(585.17,750.00) scale(0.9035,1)" font-size="44">[</text>
<text transform="translate(596.43,750.00) scale(0.8943,1)" font-size="44">V</text>
<text transform="translate(622.84,726.30) scale(1.0486,1)" font-size="25">-</text>
<path transform="translate(631.11,726.30) scale(0.01123,-0.01221)" d="M763 0L563 0L563 1063L195 902L195 1075L638 1409L763 1409Z" fill="#000"/>
<text transform="translate(644.90,750.00) scale(0.8806,1)" font-size="44">]</text>
<text id="yl1" transform="translate(40,343.5) rotate(-90)" font-size="43">g<tspan font-size="25" dy="15">m</tspan><tspan dy="-15">/(W/L) [x 0</tspan><tspan font-size="24" dy="-23">-4</tspan><tspan x="306.6" dy="0" font-size="23" font-family="Liberation Serif">&#8722;1</tspan><tspan dy="23">]</tspan></text>
<text transform="translate(40,343.5) rotate(-90) translate(275.6,0) scale(1,0.9)" font-size="43" font-family="Liberation Serif, serif">&#937;</text>
<path transform="translate(40,343.5) rotate(-90) translate(207.2,0) scale(0.020996,-0.020996)" d="M763 0L563 0L563 1063L195 902L195 1075L638 1409L763 1409Z" fill="#000"/>
<text id="yl2" transform="translate(41.5,625) rotate(-90)" font-size="43">g<tspan font-size="25" dy="16.5">D</tspan><tspan dy="-16.5">/(W/L) [</tspan><tspan x="211.1" dy="-23" font-size="23" font-family="Liberation Serif">&#8722;1</tspan><tspan dy="23">]</tspan></text>
<text transform="translate(41.5,625) rotate(-90) translate(179.1,0) scale(1,0.9)" font-size="43" font-family="Liberation Serif, serif">&#937;</text>
</svg></body></html>
